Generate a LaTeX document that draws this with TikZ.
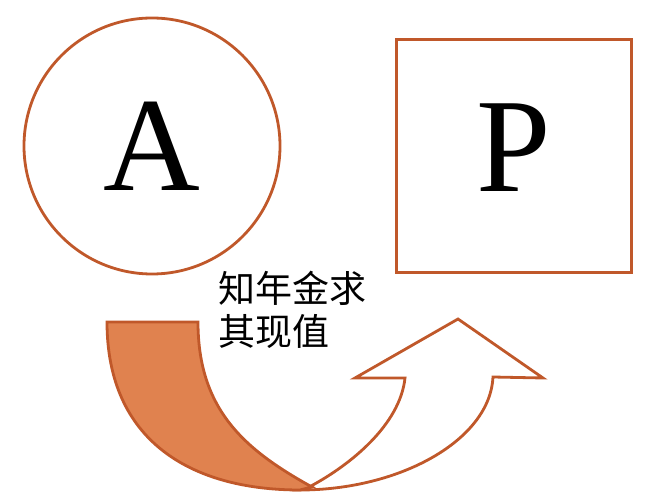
\documentclass[tikz,border=0pt]{standalone}
\usepackage{fontspec}
\setmainfont{Liberation Serif}
\newfontfamily\cjk{Noto Sans CJK SC}
\definecolor{rust}{RGB}{192,88,42}
\definecolor{peach}{RGB}{224,130,79}
\tikzset{
outline/.style={draw=rust, line width=2.8pt},
bigletter/.style={font=\fontsize{134}{134}\selectfont},
}
\begin{document}
\begin{tikzpicture}[x=1pt,y=-1pt] %pixel coordinates, y down
\useasboundingbox (0,0) rectangle (663,502);
\node[outline, circle, minimum size=256pt, inner sep=0pt, bigletter] (circA) at (152,146) {A};
\node[outline, rectangle, minimum width=235pt, minimum height=233pt, bigletter, text depth=17pt] (boxP) at (514,156) {P};

\node[anchor=base west, align=left, inner sep=0pt, font=\cjk\fontsize{37}{43}\selectfont] (label) at (218,345) {知年金求\\其现值};

% curved arrow, front part
\draw[outline, fill=white] (311,486) .. controls (350,465) and (400,425) .. (405,378)
 -- (355,378) -- (458,319) -- (543,378) -- (493,377)
 .. controls (490,440) and (400,490) .. (300,490) -- cycle;
% curved arrow, back part
\draw[outline, fill=peach] (107,322) -- (198,322) .. controls (198,410) and (245,450) .. (312,487)
 -- (300,490) .. controls (190,490) and (107,440) .. (107,322) -- cycle;

\end{tikzpicture}
\end{document}
